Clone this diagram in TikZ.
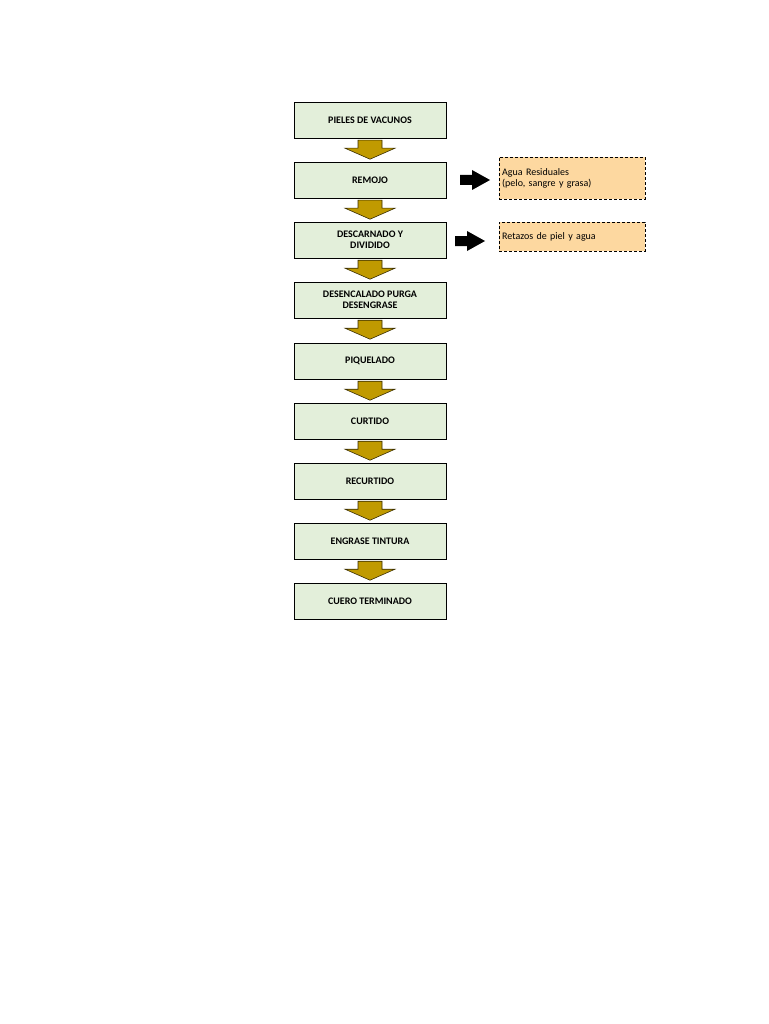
\documentclass[tikz,border=0pt]{standalone}
\usepackage{fontspec}
\setmainfont{Carlito}
\begin{document}
\begin{tikzpicture}[x=1pt,y=-1pt,
 box/.style={draw=black,fill=green!10!white,fill=boxc,minimum width=152pt,minimum height=36pt,inner sep=1pt,font=\bfseries\fontsize{10}{11}\selectfont,align=center},
 side/.style={draw=black,densely dashed,fill=sidec,anchor=north west,text width=140pt,align=left,inner sep=3pt,font=\fontsize{10}{11.5}\selectfont},
 garr/.style={fill=arrc,draw=black!70!arrc,line width=0.6pt}]
\definecolor{boxc}{HTML}{E3EFDA}
\definecolor{sidec}{HTML}{FDD8A0}
\definecolor{arrc}{HTML}{C09A00}
\useasboundingbox (0,0) rectangle (768,1024);
\foreach \n/\y/\t in {a/120/PIELES DE VACUNOS,b/180/REMOJO,c/240/{DESCARNADO Y\\DIVIDIDO},d/300/{DESENCALADO PURGA\\DESENGRASE},e/361/PIQUELADO,f/421/CURTIDO,g/481/RECURTIDO,h/541/ENGRASE TINTURA,i/601/CUERO TERMINADO}
 \node[box] (\n) at (370,\y) {\t};
\foreach \n in {a,b,c,d,e,f,g,h}{
 \path (\n.south) ++(0,2) coordinate (s);
 \draw[garr] (s) ++(-12,0) -- ++(24,0) -- ++(0,8) -- ++(13,0) -- ++(-25,11) -- ++(-25,-11) -- ++(13,0) -- cycle;
}
\node[side,minimum height=42pt] (r1) at (499,157) {Agua Residuales\\(pelo, sangre y grasa)};
\node[side,minimum height=29pt,anchor=north west] (r2) at (499,222) {\raisebox{0pt}{Retazos de piel y agua}};
\coordinate (k1) at (460,180);
\coordinate (k2) at (455,241);
\fill (k1) ++(0,-5) -- ++(12,0) -- ++(0,-5) -- ++(18,10) -- ++(-18,10) -- ++(0,-5) -- ++(-12,0) -- cycle;
\fill (k2) ++(0,-5) -- ++(12,0) -- ++(0,-5) -- ++(18,10) -- ++(-18,10) -- ++(0,-5) -- ++(-12,0) -- cycle;
\end{tikzpicture}
\end{document}
